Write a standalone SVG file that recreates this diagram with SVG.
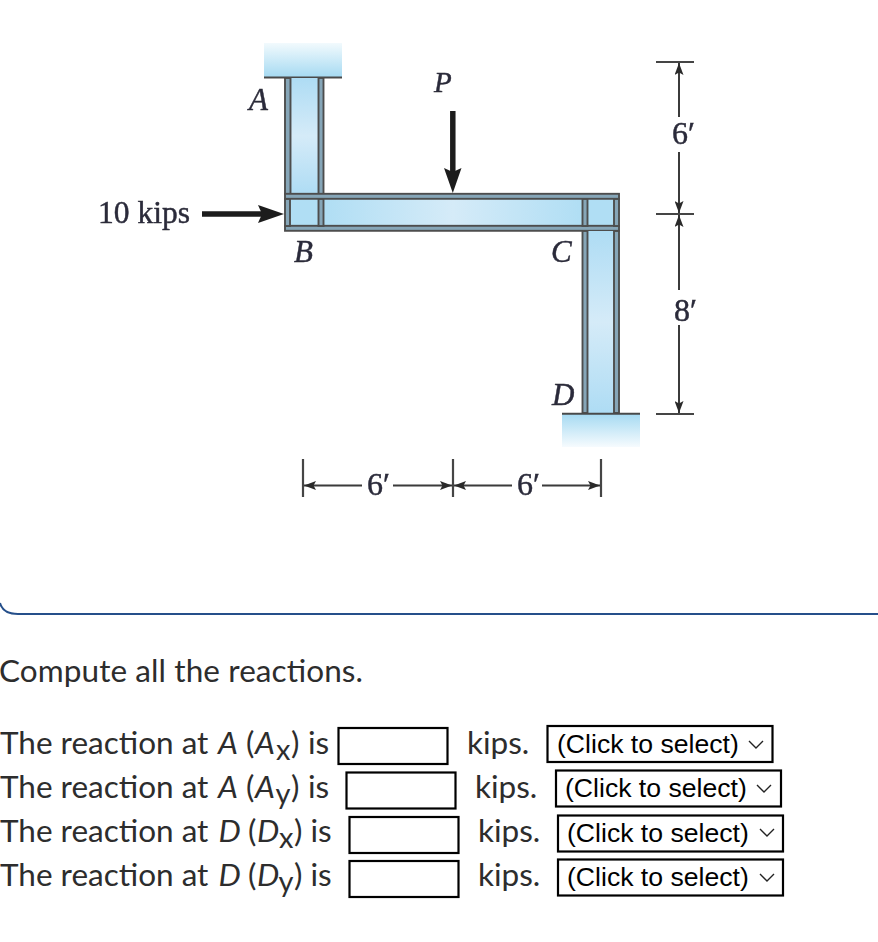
<svg xmlns="http://www.w3.org/2000/svg" width="878" height="942" viewBox="0 0 878 942">
<style>
.lab{font-family:"Liberation Serif",serif;fill:#2b2b3a;stroke:#2b2b3a;stroke-width:.45}
.it{font-style:italic;font-size:31px}
.dim{font-size:32px}
.flange{fill:#86a6b8;stroke:#4e4e4e;stroke-width:1.9}
.dl{stroke:#3a3a3a;stroke-width:2;fill:none}
.tick{stroke:#444;stroke-width:2.2;fill:none}
.q{font-family:"Lato","Open Sans",sans-serif;font-size:31.5px;fill:#2d2d2d}
.q .i{font-style:italic}
.q .s{font-size:29px}
.box{fill:#fff;stroke:#000;stroke-width:2.2}
.sel{font-family:"Liberation Sans",Arial,sans-serif;font-size:26.6px;fill:#000}
.chev{fill:none;stroke:#222;stroke-width:1.4}
</style>
<defs>
<linearGradient id="capT" x1="0" y1="0" x2="0" y2="1"><stop offset="0" stop-color="#f2fafd"/><stop offset="1" stop-color="#a6daf2"/></linearGradient>
<linearGradient id="capB" x1="0" y1="1" x2="0" y2="0"><stop offset="0" stop-color="#f6fbfe"/><stop offset="1" stop-color="#a6daf2"/></linearGradient>
<linearGradient id="colG" x1="0" y1="0" x2="0" y2="1"><stop offset="0" stop-color="#aedcf4"/><stop offset=".5" stop-color="#d5ebf8"/><stop offset="1" stop-color="#aedcf4"/></linearGradient>
<linearGradient id="beamG" x1="0" y1="0" x2="1" y2="0"><stop offset="0" stop-color="#b0def4"/><stop offset=".5" stop-color="#d5ebf8"/><stop offset="1" stop-color="#b0def4"/></linearGradient>
<marker id="ah" viewBox="0 0 12 9" refX="12" refY="4.500" markerWidth="12" markerHeight="9" markerUnits="userSpaceOnUse" orient="auto-start-reverse"><path d="M0 0L12 4.500L0 9L2.500 4.500Z" fill="#2a2a2a"/></marker>
<filter id="soft" x="-5%" y="-5%" width="110%" height="110%"><feGaussianBlur stdDeviation="0.6"/></filter>
</defs>
<rect width="878" height="942" fill="#fff"/>
<g filter="url(#soft)">
<g id="support-A">
<rect x="264" y="43" width="78" height="34" fill="url(#capT)"/>
<line x1="264" y1="77.500" x2="342" y2="77.500" stroke="#4a4a4a" stroke-width="2"/>
</g>
<g id="column-AB">
<rect x="290" y="78" width="28" height="116" fill="url(#colG)"/>
<rect x="285" y="78" width="5.500" height="116" class="flange"/>
<rect x="318.500" y="78" width="5" height="116" class="flange"/>
</g>
<g id="beam-BC">
<rect x="285" y="198" width="333" height="28" fill="#b0def4"/>
<rect x="324" y="198" width="258" height="28" fill="url(#beamG)"/>
<rect x="285" y="193.800" width="334" height="5" class="flange"/>
<rect x="285" y="225.800" width="334" height="5" class="flange"/>
<rect x="285" y="199" width="5" height="27" class="flange"/>
<rect x="318.500" y="199" width="5" height="27" class="flange"/>
<rect x="582.500" y="199" width="5" height="27" class="flange"/>
<rect x="614" y="199" width="5" height="27" class="flange"/>
</g>
<g id="column-CD">
<rect x="588" y="231" width="26" height="182" fill="url(#colG)"/>
<rect x="582.500" y="231" width="5" height="182" class="flange"/>
<rect x="614" y="231" width="5" height="182" class="flange"/>
</g>
<g id="support-D">
<rect x="562" y="414" width="78" height="33" fill="url(#capB)"/>
<line x1="562" y1="413.800" x2="640" y2="413.800" stroke="#4a4a4a" stroke-width="2"/>
</g>
<g id="connectors">
<line x1="202" y1="214" x2="262" y2="214" stroke="#1e1e1e" stroke-width="5.500"/>
<path d="M284 214L258 205L262 214L258 223Z" fill="#1e1e1e"/>
<line x1="452.800" y1="111" x2="452.800" y2="172" stroke="#1e1e1e" stroke-width="5.500"/>
<path d="M452.800 193L444 168L452.800 172L461.500 168Z" fill="#1e1e1e"/>
<line class="tick" x1="656" y1="62" x2="694" y2="62"/>
<line class="tick" x1="656" y1="214" x2="694" y2="214"/>
<line class="tick" x1="656" y1="414" x2="694" y2="414"/>
<line class="dl" x1="679" y1="117" x2="679" y2="63" marker-end="url(#ah)"/>
<line class="dl" x1="679" y1="152" x2="679" y2="213" marker-end="url(#ah)"/>
<line class="dl" x1="679" y1="290" x2="679" y2="215" marker-end="url(#ah)"/>
<line class="dl" x1="679" y1="325" x2="679" y2="413" marker-end="url(#ah)"/>
<line class="tick" x1="303" y1="459" x2="303" y2="497"/>
<line class="tick" x1="453" y1="459" x2="453" y2="497"/>
<line class="tick" x1="601" y1="459" x2="601" y2="497"/>
<line class="dl" x1="362" y1="485.500" x2="304" y2="485.500" marker-end="url(#ah)"/>
<line class="dl" x1="393" y1="485.500" x2="452" y2="485.500" marker-end="url(#ah)"/>
<line class="dl" x1="512" y1="485.500" x2="454" y2="485.500" marker-end="url(#ah)"/>
<line class="dl" x1="542" y1="485.500" x2="600" y2="485.500" marker-end="url(#ah)"/>
</g>
<g id="labels">
<text class="lab dim" x="98" y="223" textLength="92" lengthAdjust="spacingAndGlyphs">10 kips</text>
<text class="lab it" x="249" y="110">A</text>
<text class="lab it" x="434" y="92" style="font-size:29px">P</text>
<text class="lab it" x="294" y="262">B</text>
<text class="lab it" x="551" y="262">C</text>
<text class="lab it" x="552" y="405">D</text>
<text class="lab dim" x="672" y="144">6′</text>
<text class="lab dim" x="674" y="321">8′</text>
<text class="lab dim" x="367" y="495">6′</text>
<text class="lab dim" x="517" y="495">6′</text>
</g>
</g>
<path d="M0 603Q3 614 18 614L878 614" fill="none" stroke="#254f8a" stroke-width="2"/>
<g id="question">
<text class="q" x="-1" y="681.500" textLength="364">Compute all the reactions.</text>
</g>
<g id="row-1">
<text class="q" y="753.500"><tspan x="0">The reaction at</tspan><tspan x="218" class="i">A</tspan><tspan x="246">(</tspan><tspan x="255" class="i">A</tspan><tspan x="276" y="759.500" class="s">x</tspan><tspan x="291" y="753.500">)</tspan><tspan x="308">is</tspan></text>
<rect class="box" x="338.500" y="728" width="109" height="36"/>
<text class="q" x="467" y="753.500">kips.</text>
<rect class="box" x="547.500" y="726" width="225" height="36"/>
<text class="sel" x="557" y="753">(Click to select)</text>
<path class="chev" d="M749 741L756 748L763 741"/>
</g>
<g id="row-2">
<text class="q" y="797.500"><tspan x="0">The reaction at</tspan><tspan x="218" class="i">A</tspan><tspan x="246">(</tspan><tspan x="255" class="i">A</tspan><tspan x="275.500" y="803.500" class="s">y</tspan><tspan x="291" y="797.500">)</tspan><tspan x="308">is</tspan></text>
<rect class="box" x="346.500" y="772.500" width="109" height="36"/>
<text class="q" x="475" y="797.500">kips.</text>
<rect class="box" x="556" y="770.500" width="225" height="36"/>
<text class="sel" x="565" y="797">(Click to select)</text>
<path class="chev" d="M757 785L764 792L771 785"/>
</g>
<g id="row-3">
<text class="q" y="841.500"><tspan x="0">The reaction at</tspan><tspan x="218.500" class="i">D</tspan><tspan x="248">(</tspan><tspan x="257" class="i">D</tspan><tspan x="279" y="847.500" class="s">x</tspan><tspan x="294" y="841.500">)</tspan><tspan x="310.500">is</tspan></text>
<rect class="box" x="349.500" y="817" width="109" height="36"/>
<text class="q" x="478" y="841.500">kips.</text>
<rect class="box" x="558" y="815.500" width="225" height="36"/>
<text class="sel" x="567" y="842">(Click to select)</text>
<path class="chev" d="M760 829L767 836L774 829"/>
</g>
<g id="row-4">
<text class="q" y="885.500"><tspan x="0">The reaction at</tspan><tspan x="218.500" class="i">D</tspan><tspan x="248">(</tspan><tspan x="257" class="i">D</tspan><tspan x="278.500" y="891.500" class="s">y</tspan><tspan x="294" y="885.500">)</tspan><tspan x="310.500">is</tspan></text>
<rect class="box" x="349.500" y="861" width="109" height="36"/>
<text class="q" x="478" y="885.500">kips.</text>
<rect class="box" x="558" y="859.500" width="225" height="36"/>
<text class="sel" x="567" y="886">(Click to select)</text>
<path class="chev" d="M760 874L767 881L774 874"/>
</g>
</svg>
